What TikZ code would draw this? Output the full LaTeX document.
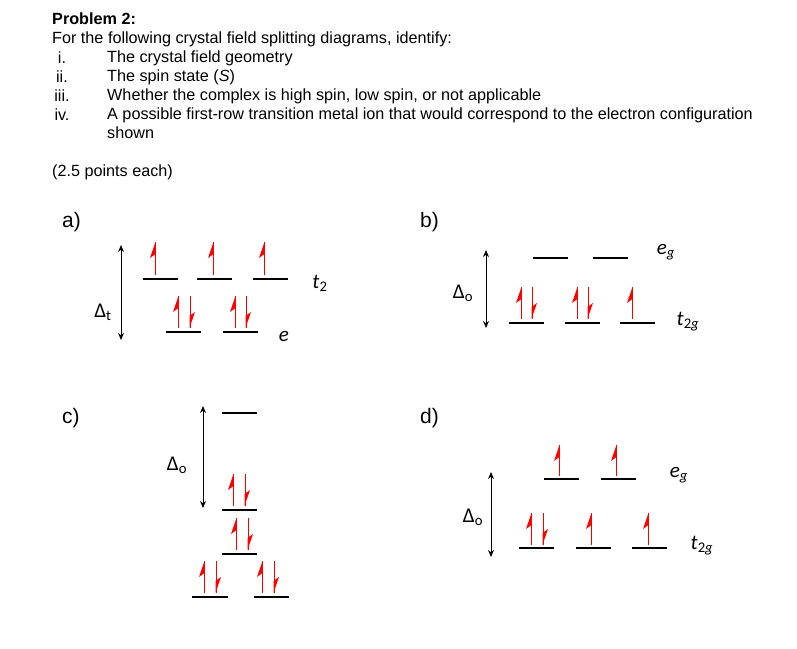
\documentclass[tikz,border=0pt]{standalone}
\usepackage{fontspec}
\setmainfont{Liberation Sans}
\newfontfamily\labfont{Carlito}
\usetikzlibrary{arrows.meta}
\begin{document}
\begin{tikzpicture}[x=1pt,y=-1pt,
  lvl/.style={line width=1.4pt},
  dbl/.style={line width=1pt,{Stealth[length=7pt,width=6pt]}-{Stealth[length=7pt,width=6pt]}},
  txt/.style={anchor=west,inner sep=0pt,font=\fontsize{16.2pt}{19pt}\selectfont},
  num/.style={anchor=center,inner sep=0pt,font=\fontsize{16.2pt}{19pt}\selectfont},
  part/.style={anchor=west,inner sep=0pt,font=\fontsize{21pt}{23pt}\selectfont},
  lab/.style={inner sep=0pt,font=\labfont\fontsize{21pt}{23pt}\selectfont}]
\useasboundingbox (0,0) rectangle (797,648);
\newcommand{\spinup}[3]{% x, ybottom, ytop
  \draw[red,line width=0.9pt] (#1,#2) -- (#1,#3);
  \fill[red] (#1+0.5,#3) -- (#1-5,#3+16) -- (#1+0.5,#3+12) -- cycle;}
\newcommand{\spindn}[3]{% x, ytop, ybottom
  \draw[red,line width=0.9pt] (#1,#2) -- (#1,#3);
  \fill[red] (#1-0.5,#3) -- (#1+5,#3-16) -- (#1-0.5,#3-12) -- cycle;}
\newcommand{\pairar}[4]{\spinup{#1}{#3}{#4}\spindn{#2}{#4}{#3}}
% text
\node[txt,font=\fontsize{16.2pt}{19pt}\bfseries] (p) at (52,19) {Problem 2:};
\node[txt] (t0) at (52,39) {For the following crystal field splitting diagrams, identify:};
\node[num] (n1) at (62,58) {i.};
\node[txt] (l1) at (107,58) {The crystal field geometry};
\node[num] (n2) at (62,77) {ii.};
\node[txt] (l2) at (107,77) {The spin state (\textit{S})};
\node[num] (n3) at (62,96) {iii.};
\node[txt] (l3) at (107,96) {Whether the complex is high spin, low spin, or not applicable};
\node[num] (n4) at (62,115) {iv.};
\node[txt] (l4) at (107,115) {A possible first-row transition metal ion that would correspond to the electron configuration};
\node[txt] (l5) at (107,133) {shown};
\node[txt] (pts) at (52,172) {(2.5 points each)};
\node[part] (la) at (62,222) {a)};
\node[part] (lb) at (420,222) {b)};
\node[part] (lc) at (62,418) {c)};
\node[part] (ld) at (420,418) {d)};
% a
\foreach \a/\b in {143/178,197/232,253/288} \draw[lvl] (\a,279)--(\b,279);
\foreach \a/\b in {166/201,223/258} \draw[lvl] (\a,332)--(\b,332);
\spinup{155}{275}{242}\spinup{213}{275}{242}\spinup{264}{275}{242}
\pairar{178}{190}{328}{296}\pairar{235}{246}{328}{296}
\coordinate (a1) at (121,245); \coordinate (a2) at (121,340);
\draw[dbl] (a1)--(a2);
\node[lab] (dt) at (103,312) {Δ\textsubscript{t}};
\node[lab] (t2a) at (320,283) {\textit{t}\textsubscript{2}};
\node[lab] (ea) at (284,336) {\textit{e}};
% b
\foreach \a/\b in {533/568,593/628} \draw[lvl] (\a,258)--(\b,258);
\foreach \a/\b in {509/544,565/600,620/655} \draw[lvl] (\a,323)--(\b,323);
\pairar{521}{532}{319}{287}\pairar{577}{588}{319}{287}\spinup{632}{319}{287}
\coordinate (b1) at (486,250); \coordinate (b2) at (486,328);
\draw[dbl] (b1)--(b2);
\node[lab] (dob) at (463,293) {Δ\textsubscript{o}};
\node[lab] (egb) at (666,252) {\textit{e}\textsubscript{\textit{g}}};
\node[lab] (t2gb) at (688,322) {\textit{t}\textsubscript{2\textit{g}}};
% c
\draw[lvl] (222,413)--(257,413);
\draw[lvl] (222,510)--(257,510);
\draw[lvl] (222,554)--(257,554);
\draw[lvl] (192,597)--(228,597);
\draw[lvl] (254,597)--(289,597);
\pairar{233}{245}{506}{474}\pairar{236}{248}{550}{518}
\pairar{204}{216}{593}{561}\pairar{262}{274}{593}{561}
\coordinate (c1) at (203,406); \coordinate (c2) at (203,508);
\draw[dbl] (c1)--(c2);
\node[lab] (doc) at (177,465) {Δ\textsubscript{o}};
% d
\foreach \a/\b in {544/579,601/636} \draw[lvl] (\a,479)--(\b,479);
\foreach \a/\b in {519/554,576/611,632/667} \draw[lvl] (\a,548)--(\b,548);
\spinup{559}{476}{445}\spinup{616}{476}{445}
\pairar{531}{543}{545}{513}\spinup{591}{545}{513}\spinup{648}{545}{513}
\coordinate (d1) at (491,472); \coordinate (d2) at (491,557);
\draw[dbl] (d1)--(d2);
\node[lab] (dod) at (473,517) {Δ\textsubscript{o}};
\node[lab] (egd) at (679,475) {\textit{e}\textsubscript{\textit{g}}};
\node[lab] (t2gd) at (702,546) {\textit{t}\textsubscript{2\textit{g}}};
\end{tikzpicture}
\end{document}
